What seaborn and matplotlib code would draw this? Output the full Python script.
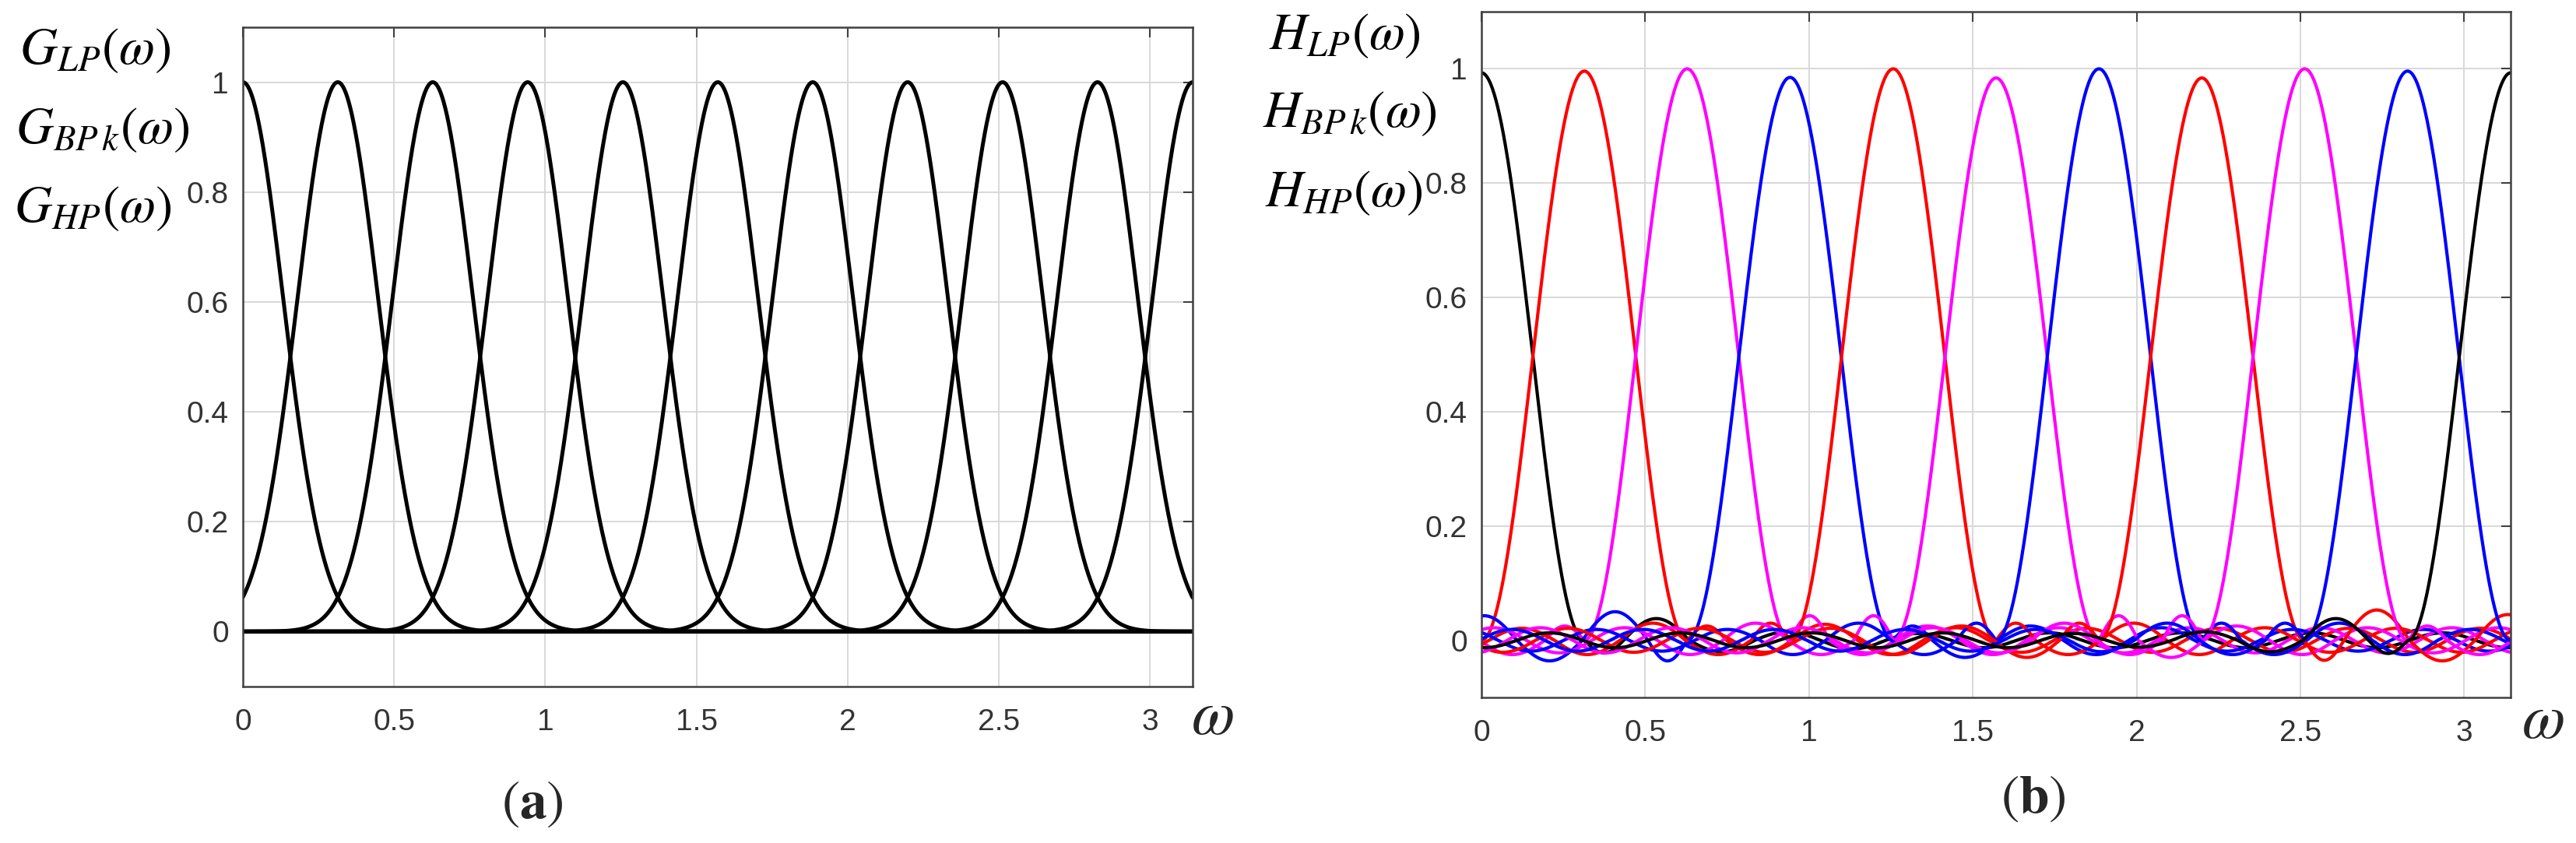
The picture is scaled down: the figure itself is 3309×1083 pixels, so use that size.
import numpy as np
import pandas as pd
import matplotlib
matplotlib.use("Agg")
import matplotlib.pyplot as plt
import seaborn as sns
from matplotlib.ticker import FormatStrFormatter

# ── DATA ─────────────────────────────────────────────────────────────────────
# band centres (peak positions) shared by both filter banks
band_centres = [0.0, 0.314, 0.628, 0.942, 1.257, 1.571, 1.885, 2.199, 2.513, 2.827, 3.142]

# (a) Gaussian bank: all peaks 1, neighbours cross at 0.5 half way
g_peaks = [1.0] * 11
g_half_width = 0.157          # half width at half maximum

# (b) designed bank: peak heights, colours, side-lobe amplitudes
h_peaks = [0.993, 0.996, 1.0, 0.985, 1.0, 0.984, 1.0, 0.984, 1.0, 0.996, 0.993]
h_colors = ["black", "red", "magenta", "blue", "red", "magenta",
            "blue", "red", "magenta", "blue", "black"]
h_main_half = 0.314           # main lobe reaches zero at the neighbour's peak
h_left_lobes = [
    [],
    [-0.02],
    [0.025, -0.025],
    [-0.036, 0.05, -0.036, 0.043],
    [0.03, -0.025, 0.03, -0.025],
    [0.043, -0.025, 0.03, -0.025],
    [0.03, -0.025, 0.03, -0.025],
    [0.03, -0.03, 0.025, -0.025],
    [0.043, -0.025, 0.03],
    [0.03, -0.025, 0.03, -0.02],
    [-0.023, 0.038, -0.02, 0.015, -0.012, 0.012],
]
h_right_lobes = [
    [-0.022, 0.038, -0.02, 0.015, -0.015, 0.012],
    [0.025, -0.025, 0.028, -0.025, 0.022],
    [0.043, -0.025, 0.025, -0.025, 0.022],
    [0.025, -0.03, 0.025, -0.025, 0.022],
    [0.03, -0.025, 0.03, -0.025, 0.022],
    [0.043, -0.03, 0.025, -0.025],
    [0.03, -0.025, 0.03, -0.025],
    [-0.035, 0.053, -0.036, 0.045],
    [0.025, -0.025],
    [],
    [],
]
h_tail = [0.013, 0.021, 0.022, 0.019, 0.021, 0.022, 0.019, 0.021, 0.022, 0.019, 0.013]
lobe_first, lobe_step = 0.12, 0.2   # widths of the side lobes

x_ticks = [0, 0.5, 1, 1.5, 2, 2.5, 3]
y_ticks = [0, 0.2, 0.4, 0.6, 0.8, 1]

# ── BUILD CURVES ─────────────────────────────────────────────────────────────
omega = np.linspace(0, np.pi, 2500)


def side_lobes(u, amps, tail):
    amps = list(amps) if amps else [-tail]
    while len(amps) < 20:
        amps.append(-np.sign(amps[-1]) * tail)
    out = np.zeros_like(u)
    start, width = 0.0, lobe_first
    for a in amps:
        m = (u >= start) & (u < start + width)
        out[m] = a * np.sin(np.pi * (u[m] - start) / width)
        start += width
        width = lobe_step
    return out


rows_a, rows_b = [], []
sigma = g_half_width / np.sqrt(2 * np.log(2))
for k, (c, p) in enumerate(zip(band_centres, g_peaks)):
    g = p * np.exp(-0.5 * ((omega - c) / sigma) ** 2)
    rows_a.append(pd.DataFrame({"omega": omega, "gain": g, "band": k}))

for k, c in enumerate(band_centres):
    d = omega - c
    h = np.where(np.abs(d) < h_main_half,
                 h_peaks[k] * np.cos(np.pi * d / (2 * h_main_half)) ** 2, 0.0)
    right = d > h_main_half
    left = d < -h_main_half
    h[right] += side_lobes(d[right] - h_main_half, h_right_lobes[k], h_tail[k])
    h[left] += side_lobes(-d[left] - h_main_half, h_left_lobes[k], h_tail[k])
    rows_b.append(pd.DataFrame({"omega": omega, "gain": h, "band": k}))

df_a = pd.concat(rows_a, ignore_index=True)
df_b = pd.concat(rows_b, ignore_index=True)

# ── PLOT ─────────────────────────────────────────────────────────────────────
sns.set_theme(style="white")
plt.rcParams["font.family"] = ["Liberation Sans", "DejaVu Sans"]
plt.rcParams["mathtext.fontset"] = "stix"

W, H = 3309, 1083
fig = plt.figure(figsize=(W / 100, H / 100), dpi=100)
ax_a = fig.add_axes([312 / W, 1 - 882 / H, 1220 / W, 847 / H])
ax_b = fig.add_axes([1903 / W, 1 - 896 / H, 1322 / W, 881 / H])

sns.lineplot(data=df_a, x="omega", y="gain", hue="band",
             palette={k: "black" for k in range(11)},
             estimator=None, sort=False, legend=False, linewidth=3.6, ax=ax_a)
sns.lineplot(data=df_b, x="omega", y="gain", hue="band",
             palette={k: col for k, col in enumerate(h_colors)},
             estimator=None, sort=False, legend=False, linewidth=3.0, ax=ax_b)

for ax in (ax_a, ax_b):
    ax.set_xlim(0, np.pi)
    ax.set_ylim(-0.1, 1.1)
    ax.set_xticks(x_ticks)
    ax.set_yticks(y_ticks)
    ax.xaxis.set_major_formatter(FormatStrFormatter("%g"))
    ax.yaxis.set_major_formatter(FormatStrFormatter("%g"))
    ax.grid(True, color="#d8d8d8", linewidth=1.4)
    ax.set_axisbelow(True)
    ax.set_xlabel("")
    ax.set_ylabel("")
    for sp in ax.spines.values():
        sp.set_color("#404040")
        sp.set_linewidth(1.8)
    ax.tick_params(direction="in", top=True, right=True, length=9, width=1.5,
                   color="#404040", labelsize=28, labelcolor="#333333")
    ax.tick_params(axis="x", pad=20)
    ax.tick_params(axis="y", pad=13)

# axis labels in the corners, as in the reference
math_kw = dict(fontsize=48, ha="left", va="baseline", color="black")
fig.text(25 / W, 1 - 82 / H, r"$G_{LP}(\omega)$", **math_kw)
fig.text(20 / W, 1 - 184 / H, r"$G_{BP\,k}(\omega)$", **math_kw)
fig.text(18 / W, 1 - 285 / H, r"$G_{HP}(\omega)$", **math_kw)
fig.text(1630 / W, 1 - 63 / H, r"$H_{LP}(\omega)$", **math_kw)
fig.text(1622 / W, 1 - 163 / H, r"$H_{BP\,k}(\omega)$", **math_kw)
fig.text(1625 / W, 1 - 265 / H, r"$H_{HP}(\omega)$", **math_kw)

fig.text(1557 / W, 1 - 922 / H, r"$\omega$", fontsize=58, ha="center", va="center")
fig.text(3266 / W, 1 - 927 / H, r"$\omega$", fontsize=58, ha="center", va="center")

fig.text(684 / W, 1 - 1033 / H, r"$(\mathbf{a})$", fontsize=50, ha="center", va="center")
fig.text(2612 / W, 1 - 1026 / H, r"$(\mathbf{b})$", fontsize=50, ha="center", va="center")

fig.savefig("out.png", dpi=100)
